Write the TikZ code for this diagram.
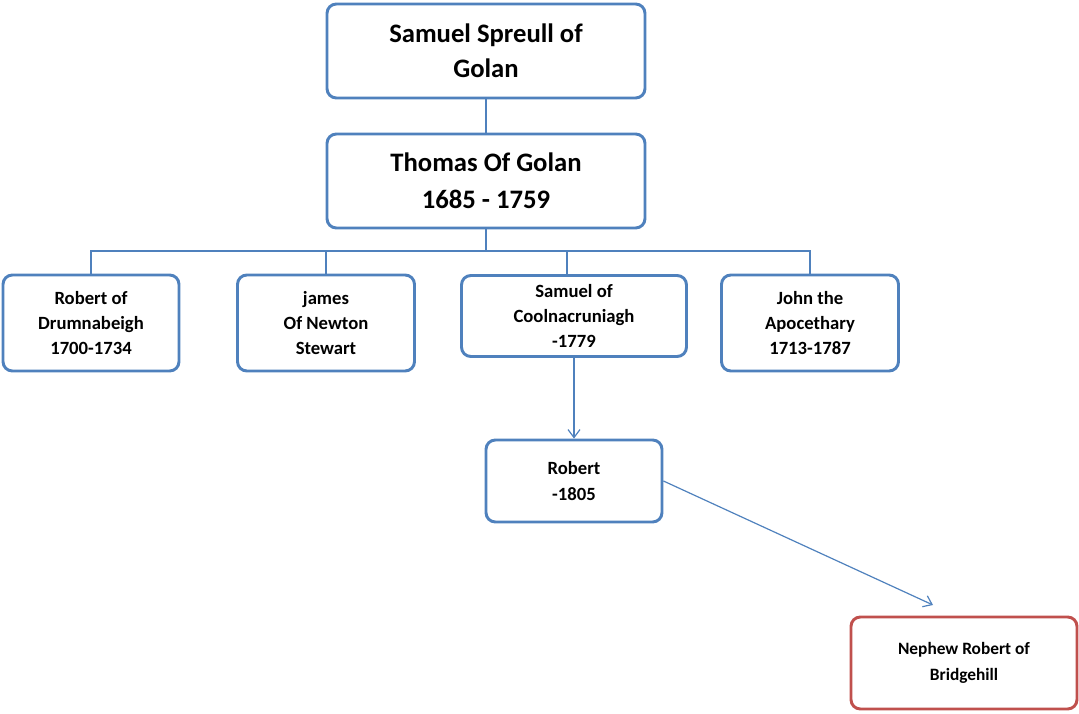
\documentclass[tikz,border=0pt]{standalone}
\usepackage{fontspec}
\setmainfont{Carlito}[BoldFeatures={Letters=SmallCaps}]
\usetikzlibrary{arrows.meta}
\definecolor{bl}{HTML}{4F81BD}
\definecolor{rd}{HTML}{C0504D}
\begin{document}
\begin{tikzpicture}[x=0.75pt,y=-0.75pt,
  box/.style={draw=bl,line width=2.2pt,rounded corners=7pt,fill=white,align=center,font=\bfseries,inner sep=0pt},
  ln/.style={draw=bl,line width=0.9pt},
  ar/.style={ln,-{Straight Barb[length=6pt,width=9pt]}}]
\useasboundingbox (0,0) rectangle (1079,714);
\node[box,minimum width=318*0.75pt,minimum height=94*0.75pt,font=\bfseries\fontsize{20}{26}\selectfont] (s) at (486,51) {Samuel Spreull of\\Golan};
\node[box,minimum width=318*0.75pt,minimum height=94*0.75pt,font=\bfseries\fontsize{20}{28}\selectfont] (t) at (486,181) {Thomas Of Golan\\1685 - 1759};
\node[box,minimum width=176*0.75pt,minimum height=96*0.75pt,font=\bfseries\fontsize{14}{19}\selectfont] (r) at (91,323) {Robert of\\Drumnabeigh\\1700-1734};
\node[box,minimum width=177*0.75pt,minimum height=96*0.75pt,font=\bfseries\fontsize{14}{19}\selectfont] (j) at (326,323) {james\\Of Newton\\Stewart};
\node[box,minimum width=225*0.75pt,minimum height=81*0.75pt,font=\bfseries\fontsize{14}{19}\selectfont] (sa) at (574,316) {Samuel of\\Coolnacruniagh\\-1779};
\node[box,minimum width=177*0.75pt,minimum height=96*0.75pt,font=\bfseries\fontsize{14}{19}\selectfont] (jo) at (810,323) {John the\\Apocethary\\1713-1787};
\node[box,minimum width=176*0.75pt,minimum height=82*0.75pt,font=\bfseries\fontsize{14}{19}\selectfont] (rb) at (574,481) {Robert\\-1805};
\node[box,draw=rd,minimum width=226*0.75pt,minimum height=92*0.75pt,font=\bfseries\fontsize{13}{19}\selectfont] (n) at (964,663) {Nephew Robert of\\Bridgehill};
\coordinate (bus) at (486,251);
\coordinate (tip) at (933,605);
\draw[ln] (s) -- (t);
\draw[ln] (t.south) -- (bus);
\draw[ln] (r.north) |- (bus) -| (jo.north);
\draw[ln] (j.north) -- (j.north |- bus);
\draw[ln] (567,275) -- (567,251);
\draw[ar] (sa.south) -- (rb.north);
\draw[ar] (rb.east) -- (tip);
\end{tikzpicture}
\end{document}
